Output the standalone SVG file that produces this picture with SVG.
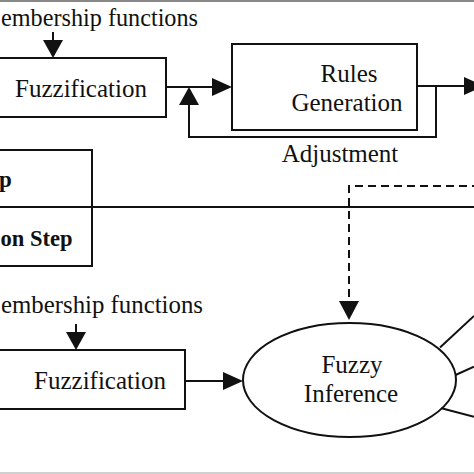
<svg xmlns="http://www.w3.org/2000/svg" width="474" height="474" viewBox="0 0 474 474" font-family="Liberation Serif, serif">
<style>
.t{font-size:25px;fill:#111}
.b{font-size:23px;font-weight:bold;fill:#111}
.s{fill:none;stroke:#111;stroke-width:2}
.d{fill:none;stroke:#111;stroke-width:2;stroke-dasharray:8 5}
.h{fill:#111}
</style>
<rect x="0" y="0" width="474" height="474" fill="#fff"/>
<rect x="0" y="0" width="474" height="2" fill="#888"/>
<rect x="0" y="472" width="474" height="2" fill="#d0d0d0"/>
<g id="mf1"><text class="t" x="1" y="26" textLength="197" lengthAdjust="spacingAndGlyphs">embership functions</text></g>
<g id="fuzz1"><rect class="s" x="-10" y="58" width="176" height="59"/><text class="t" x="81" y="97" text-anchor="middle">Fuzzification</text></g>
<g id="rules"><rect class="s" x="232" y="44" width="185" height="86"/><text class="t" x="349" y="82" text-anchor="middle">Rules</text><text class="t" x="347" y="111" text-anchor="middle">Generation</text></g>
<g id="adj"><text class="t" x="340" y="162" text-anchor="middle">Adjustment</text></g>
<g id="steps"><rect class="s" x="-10" y="150" width="102" height="116"/><line class="s" x1="-10" y1="207" x2="92" y2="207"/><text class="b" x="-1" y="187">p</text><text class="b" x="0.5" y="246" textLength="72" lengthAdjust="spacingAndGlyphs">on Step</text></g>
<g id="mf2"><text class="t" x="1" y="313" textLength="202" lengthAdjust="spacingAndGlyphs">embership functions</text></g>
<g id="fuzz2"><rect class="s" x="-10" y="350" width="195" height="59"/><text class="t" x="100" y="389" text-anchor="middle">Fuzzification</text></g>
<g id="inference"><ellipse class="s" cx="349.5" cy="380" rx="106.5" ry="57"/><text class="t" x="352" y="373" text-anchor="middle">Fuzzy</text><text class="t" x="351" y="402" text-anchor="middle">Inference</text></g>
<g id="connectors">
<line class="s" x1="53" y1="32" x2="53" y2="42"/><polygon class="h" points="43,40 63,40 53,58"/>
<line class="s" x1="166" y1="87" x2="214" y2="87"/><polygon class="h" points="212,78 212,96 232,87"/>
<polyline class="s" points="417,86 464,86"/><polygon class="h" points="464,77 464,95 484,86"/>
<polyline class="s" points="436,86 436,137 189,137 189,103"/><polygon class="h" points="179,105 199,105 189,87"/>
<line class="s" x1="92" y1="207" x2="474" y2="207"/>
<polyline class="d" points="480,186 349,186 349,303"/><polygon class="h" points="339,301 359,301 349,320"/>
<line class="s" x1="76" y1="324" x2="76" y2="334"/><polygon class="h" points="66,332 86,332 76,350"/>
<line class="s" x1="185" y1="381" x2="225" y2="381"/><polygon class="h" points="223,372 223,390 243,381"/>
<line class="s" x1="440" y1="347.5" x2="474" y2="316"/>
<line class="s" x1="455.5" y1="375" x2="474" y2="366.7"/>
<line class="s" x1="441.5" y1="408.3" x2="474" y2="416.7"/>
</g>
</svg>
